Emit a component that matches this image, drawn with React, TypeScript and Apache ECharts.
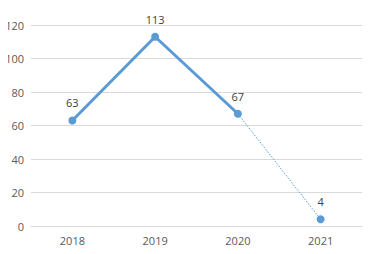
import React, { useEffect, useRef } from "react";
import * as echarts from "echarts";

const categories = ["2018", "2019", "2020", "2021"];
const solidValues: (number | string)[] = [63, 113, 67, "-"];
const dottedValues: (number | string)[] = ["-", "-", 67, 4];
const yTicks = { min: 0, max: 120, interval: 20 };

export default function App() {
  const ref = useRef<HTMLDivElement>(null);
  useEffect(() => {
    if (!ref.current) return;
    const chart = echarts.init(ref.current, null, { renderer: "svg" });
    const color = "#5B9BD5";
    const labelStyle = {
      show: true,
      position: "top" as const,
      distance: 8,
      color: "#404040",
      fontSize: 11,
      fontFamily: "Open Sans, Liberation Sans, sans-serif",
    };
    chart.setOption({
      animation: false,
      grid: { left: 31, right: 10, top: 25, bottom: 28 },
      xAxis: {
        type: "category",
        data: categories,
        axisLine: { lineStyle: { color: "#d9d9d9" } },
        axisTick: { show: false },
        axisLabel: {
          color: "#595959",
          fontSize: 11,
          margin: 9,
          fontFamily: "Open Sans, Liberation Sans, sans-serif",
        },
      },
      yAxis: {
        type: "value",
        min: yTicks.min,
        max: yTicks.max,
        interval: yTicks.interval,
        axisLine: { show: false },
        axisTick: { show: false },
        splitLine: { lineStyle: { color: "#d9d9d9" } },
        axisLabel: {
          color: "#595959",
          fontSize: 11,
          margin: 7,
          fontFamily: "Open Sans, Liberation Sans, sans-serif",
        },
      },
      series: [
        {
          type: "line",
          z: 1,
          data: dottedValues.map((v, i) =>
            i === 2 ? { value: v, symbol: "none", label: { show: false } } : v
          ),
          symbol: "circle",
          symbolSize: 8,
          itemStyle: { color },
          lineStyle: { color, width: 1, type: [1.5, 1.5] },
          label: labelStyle,
        },
        {
          type: "line",
          z: 2,
          data: solidValues,
          symbol: "circle",
          symbolSize: 8,
          itemStyle: { color },
          lineStyle: { color, width: 3 },
          label: labelStyle,
        },
      ],
    });
    return () => chart.dispose();
  }, []);
  return <div ref={ref} style={{ width: 372, height: 254, margin: -8 }} />;
}
